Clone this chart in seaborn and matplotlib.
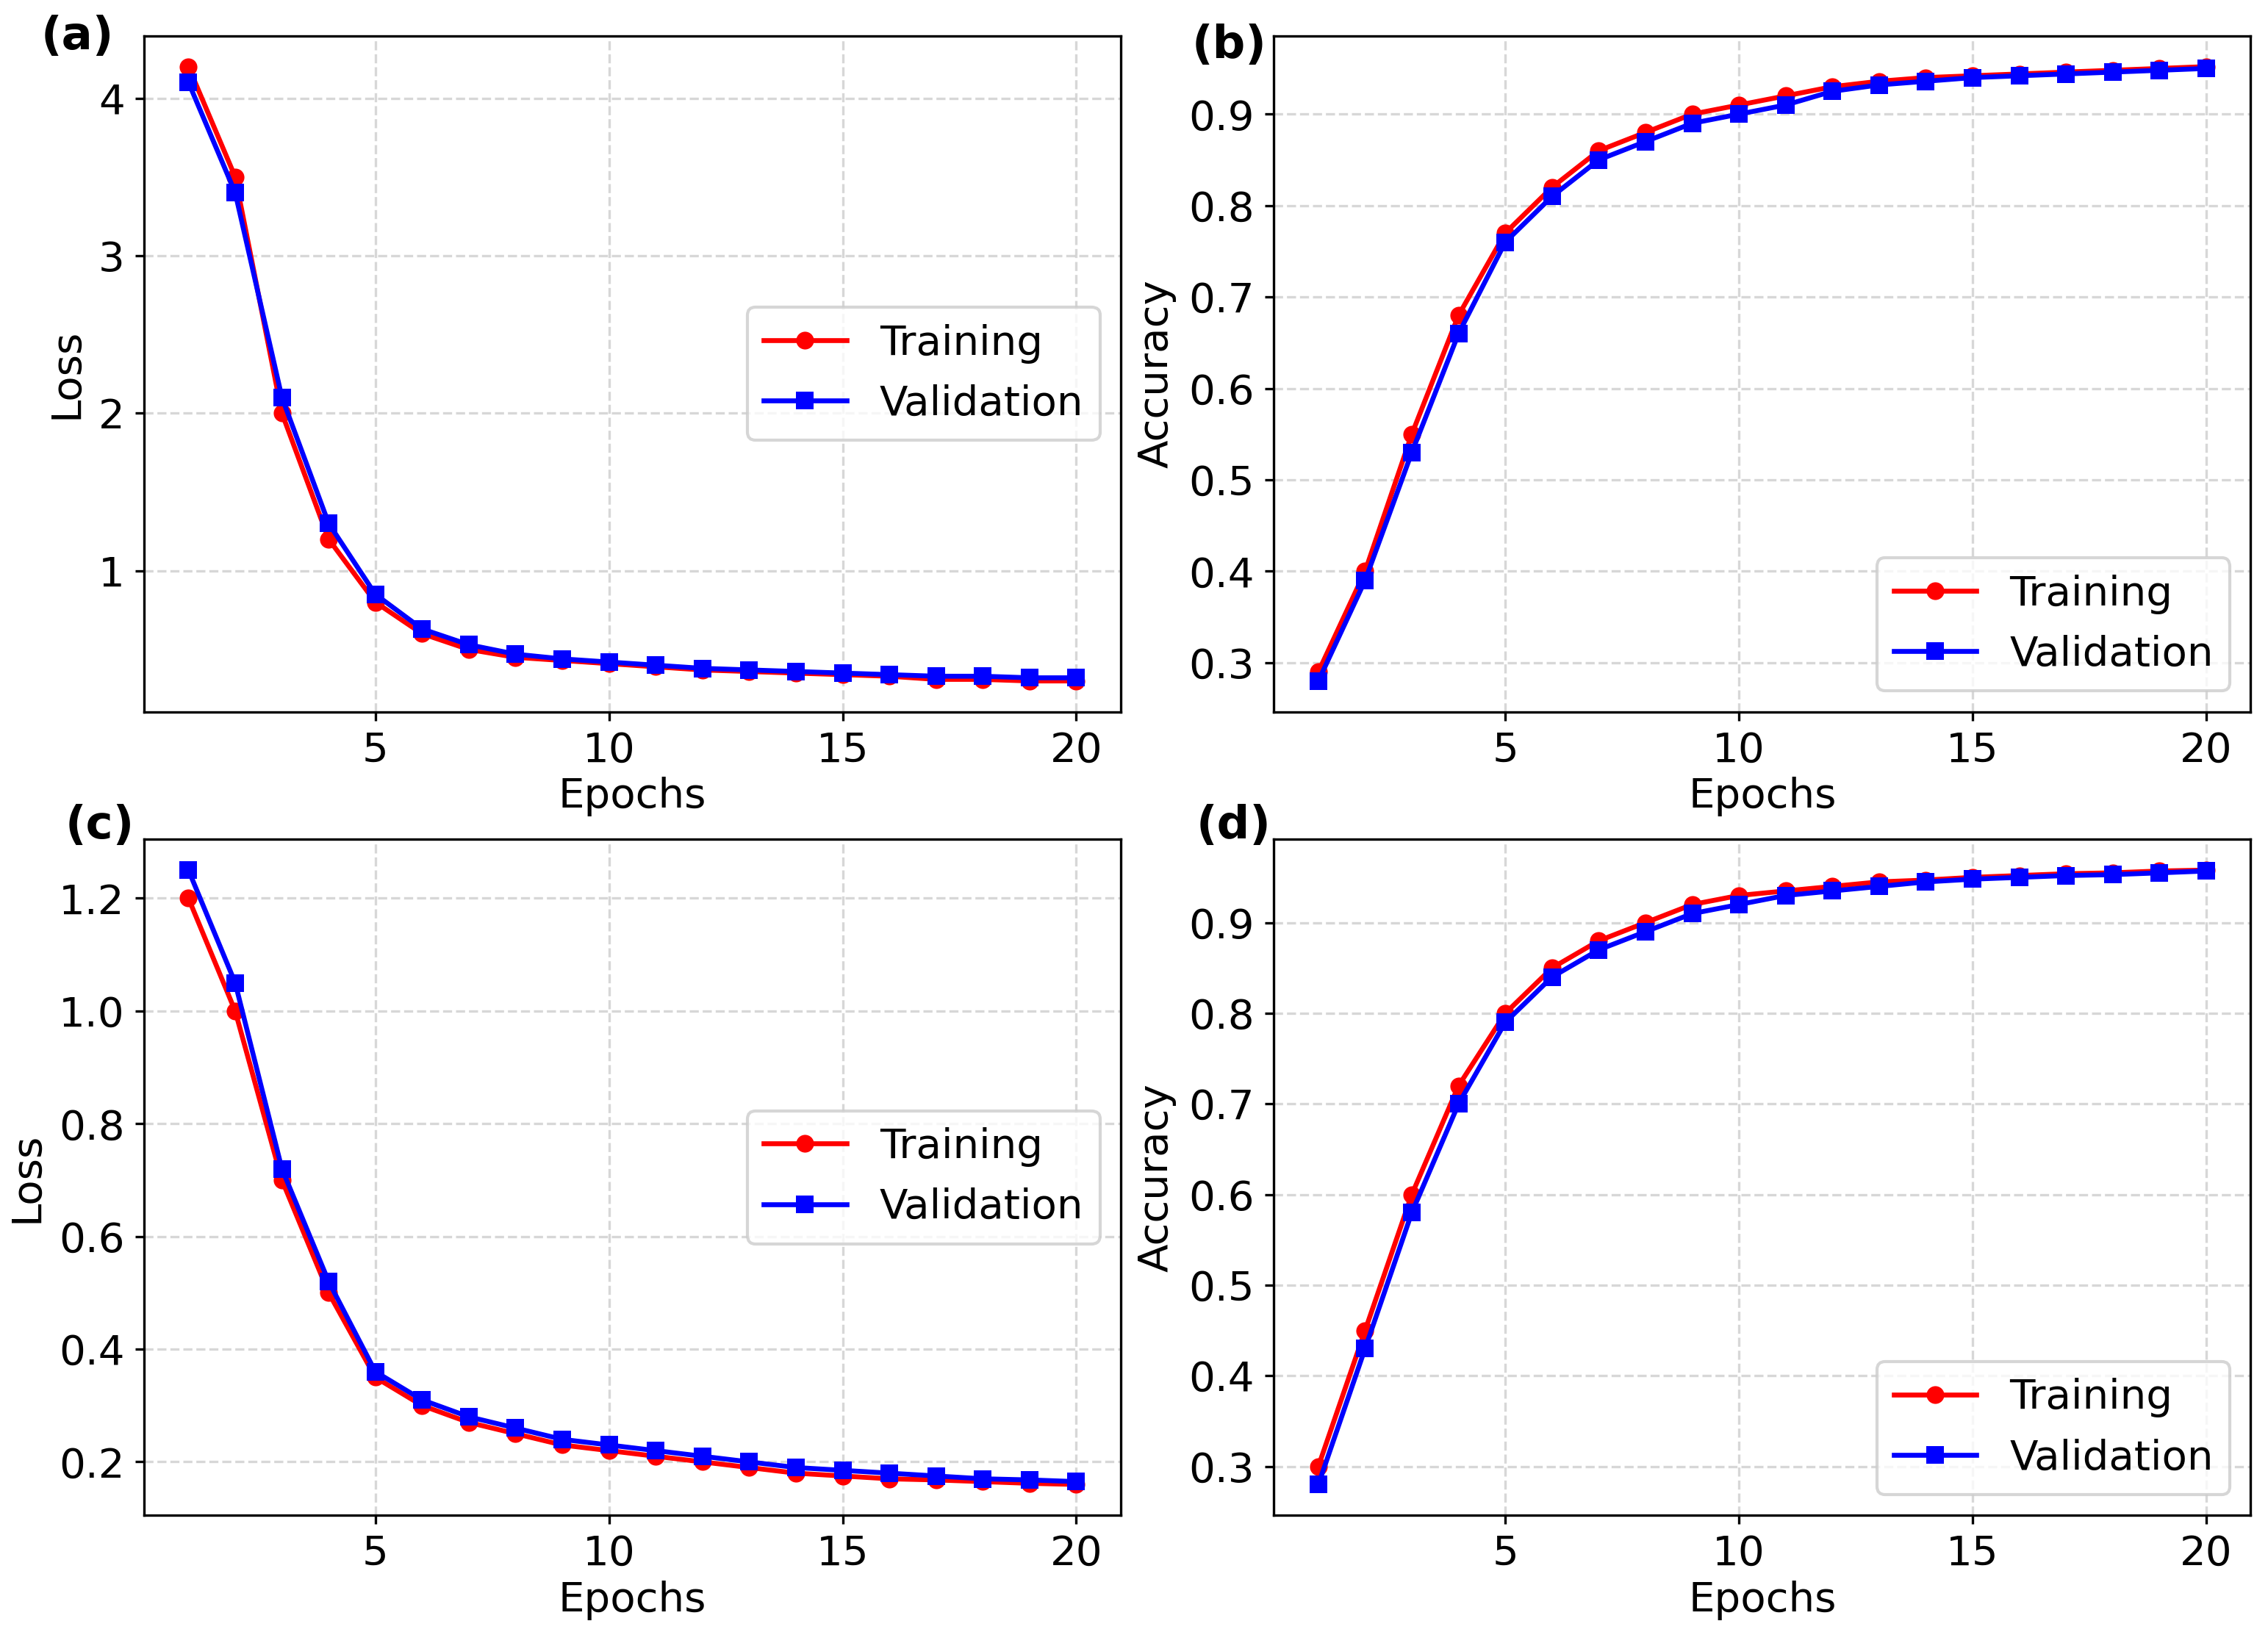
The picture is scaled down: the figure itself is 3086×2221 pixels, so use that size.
#!/usr/bin/env python3
"""Training / validation curves, 2x2 panels (loss and accuracy)."""
import numpy as np
import pandas as pd
import matplotlib
matplotlib.use('Agg')
import matplotlib.pyplot as plt
from matplotlib.ticker import MultipleLocator
import seaborn as sns

epochs = list(range(1, 21))

# (a) loss, first model
loss_a_train = [4.20, 3.50, 2.00, 1.20, 0.80, 0.60, 0.50, 0.45, 0.43, 0.41,
                0.39, 0.37, 0.36, 0.35, 0.34, 0.33, 0.31, 0.31, 0.30, 0.30]
loss_a_val = [4.10, 3.40, 2.10, 1.30, 0.85, 0.63, 0.53, 0.47, 0.44, 0.42,
              0.40, 0.38, 0.37, 0.36, 0.35, 0.34, 0.33, 0.33, 0.32, 0.32]

# (b) accuracy, first model
acc_b_train = [0.29, 0.40, 0.55, 0.68, 0.77, 0.82, 0.86, 0.88, 0.90, 0.91,
               0.92, 0.930, 0.936, 0.940, 0.942, 0.944, 0.946, 0.948, 0.950, 0.952]
acc_b_val = [0.28, 0.39, 0.53, 0.66, 0.76, 0.81, 0.85, 0.87, 0.89, 0.90,
             0.91, 0.925, 0.932, 0.936, 0.940, 0.942, 0.944, 0.946, 0.948, 0.950]

# (c) loss, second model
loss_c_train = [1.20, 1.00, 0.70, 0.50, 0.35, 0.30, 0.27, 0.25, 0.23, 0.22,
                0.21, 0.20, 0.19, 0.18, 0.175, 0.170, 0.168, 0.165, 0.162, 0.160]
loss_c_val = [1.25, 1.05, 0.72, 0.52, 0.36, 0.31, 0.28, 0.26, 0.24, 0.23,
              0.22, 0.21, 0.20, 0.19, 0.185, 0.180, 0.175, 0.170, 0.168, 0.165]

# (d) accuracy, second model
acc_d_train = [0.30, 0.45, 0.60, 0.72, 0.80, 0.85, 0.88, 0.90, 0.92, 0.93,
               0.935, 0.940, 0.945, 0.947, 0.950, 0.952, 0.954, 0.955, 0.957, 0.958]
acc_d_val = [0.28, 0.43, 0.58, 0.70, 0.79, 0.84, 0.87, 0.89, 0.91, 0.92,
             0.930, 0.935, 0.940, 0.945, 0.948, 0.950, 0.952, 0.953, 0.955, 0.957]

series_labels = ['Training', 'Validation']

FS = 13.5
plt.rcParams['font.family'] = ['DejaVu Sans']
plt.rcParams['font.size'] = FS


def make_df(train, val, metric):
    df = pd.DataFrame({
        'Epochs': epochs * 2,
        metric: list(train) + list(val),
        'Set': [series_labels[0]] * len(train) + [series_labels[1]] * len(val),
    })
    return df


def draw_panel(ax, train, val, metric, legend_loc):
    df = make_df(train, val, metric)
    sns.lineplot(data=df, x='Epochs', y=metric, hue='Set', style='Set',
                 hue_order=series_labels, style_order=series_labels,
                 palette=['red', 'blue'], markers=['o', 's'], dashes=False,
                 markersize=5.8, markeredgewidth=0, linewidth=1.6, ax=ax)
    if metric == 'Accuracy':
        ax.yaxis.set_major_locator(MultipleLocator(0.1))
    ax.grid(True, linestyle='--', alpha=0.5)
    ax.set_axisbelow(True)
    ax.tick_params(labelsize=FS, length=2.8)
    ax.set_xlabel('Epochs', fontsize=FS, labelpad=2)
    ax.set_ylabel(metric, fontsize=FS)
    handles, labels = ax.get_legend_handles_labels()
    ax.legend(handles, labels, loc=legend_loc, fontsize=FS)


fig, axes = plt.subplots(2, 2, figsize=(3087 / 300, 2221 / 300), dpi=300)
fig.subplots_adjust(left=0.0635, right=0.992, top=0.978, bottom=0.0716,
                    wspace=0.157, hspace=0.189)

draw_panel(axes[0, 0], loss_a_train, loss_a_val, 'Loss', 'center right')
draw_panel(axes[0, 1], acc_b_train, acc_b_val, 'Accuracy', 'lower right')
draw_panel(axes[1, 0], loss_c_train, loss_c_val, 'Loss', 'center right')
draw_panel(axes[1, 1], acc_d_train, acc_d_val, 'Accuracy', 'lower right')

# panel letters
for txt, x, y in [('(a)', 0.0502, 0.9775), ('(b)', 0.5582, 0.9719),
                  ('(c)', 0.0593, 0.4939), ('(d)', 0.5604, 0.4939)]:
    fig.text(x, y, txt, ha='right', va='center', fontsize=15, fontweight='bold')

fig.savefig('out.png', dpi=300)
plt.close(fig)
